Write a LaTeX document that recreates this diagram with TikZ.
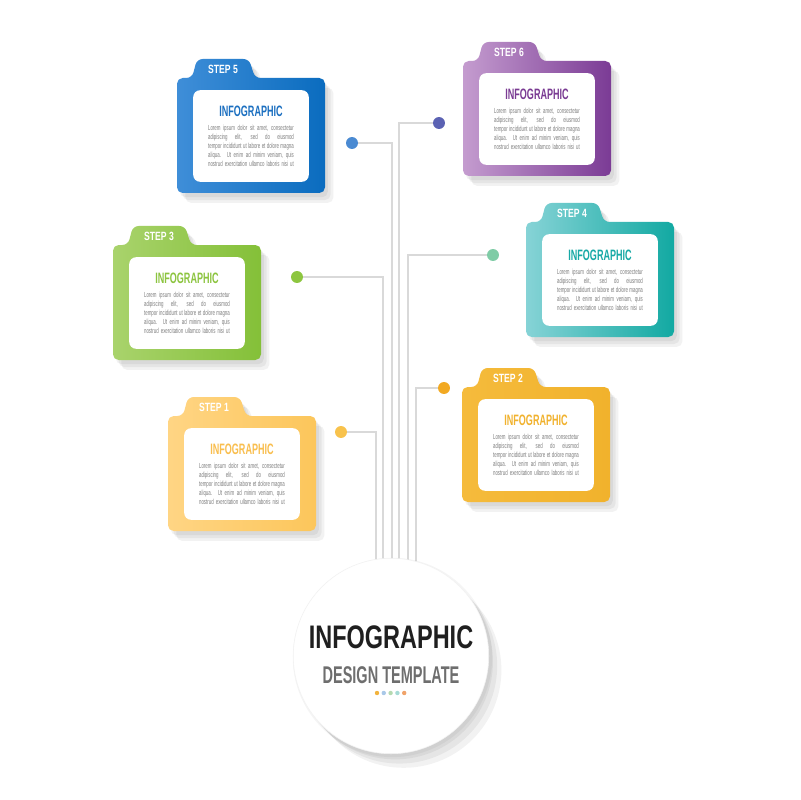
\documentclass[tikz,border=0pt]{standalone}
\usepackage{fontspec}
\setmainfont{Liberation Sans}
\newfontfamily\condA[FakeStretch=0.72]{Liberation Sans}
\newfontfamily\condB[FakeStretch=0.6]{Liberation Sans}
\usetikzlibrary{shadows}

\definecolor{bluL}{HTML}{3F8ED8}\definecolor{bluR}{HTML}{0A6CBF}\definecolor{bluT}{HTML}{1B6FC0}
\definecolor{purL}{HTML}{C49CCF}\definecolor{purR}{HTML}{7B3B95}\definecolor{purT}{HTML}{7A3B93}
\definecolor{grnL}{HTML}{A9D36C}\definecolor{grnR}{HTML}{84C038}\definecolor{grnT}{HTML}{8CC43F}
\definecolor{tqsL}{HTML}{86D3D6}\definecolor{tqsR}{HTML}{12A9A2}\definecolor{tqsT}{HTML}{17A9A6}
\definecolor{ylwL}{HTML}{FFD584}\definecolor{ylwR}{HTML}{FCC65B}\definecolor{ylwT}{HTML}{F9BE4E}
\definecolor{orgL}{HTML}{F5BB3C}\definecolor{orgR}{HTML}{F1B22C}\definecolor{orgT}{HTML}{F1B22E}
\definecolor{dot1}{HTML}{F8C24C}\definecolor{dot2}{HTML}{F2A922}\definecolor{dot3}{HTML}{8DC63F}
\definecolor{dot4}{HTML}{7FCCA6}\definecolor{dot5}{HTML}{4A8AD2}\definecolor{dot6}{HTML}{5B62B3}
\definecolor{wiregray}{HTML}{D9D9D9}
\definecolor{loremgray}{HTML}{7C7C7C}

\newcommand\lorem{%
  \makebox[61pt][s]{Lorem ipsum dolor sit amet, consectetur}\\
  \makebox[61pt][s]{adipiscing elit, sed do eiusmod}\\
  \makebox[61pt][s]{tempor incididunt ut labore et dolore magna}\\
  \makebox[61pt][s]{aliqua. Ut enim ad minim veniam, quis}\\
  \makebox[61pt][s]{nostrud exercitation ullamco laboris nisi ut}}

\tikzset{
  steplabel/.style={text=white, font=\condA\bfseries\fontsize{8.5}{10}\selectfont},
  cardtitle/.style={font=\condB\bfseries\fontsize{10.7}{12}\selectfont},
  lorembox/.style={text=loremgray, font=\condB\fontsize{5.2}{6.4}\selectfont, align=center, inner sep=0},
  card/.style={fill=white, rounded corners=5pt, minimum width=82.2pt, minimum height=65.2pt},
  dot/.style={circle, minimum size=8.5pt, inner sep=0},
  wire/.style={draw=wiregray, line width=1.8pt},
  boxshadow/.style={
    general shadow={fill=black, opacity=.05, shadow xshift=2pt, shadow yshift=-3pt},
    general shadow={fill=black, opacity=.05, shadow xshift=4pt, shadow yshift=-5pt},
    general shadow={fill=black, opacity=.05, shadow xshift=6pt, shadow yshift=-7pt}},
  hub/.style={circle, fill=white, draw=black!5, minimum size=139pt, inner sep=0,
    general shadow={fill=black, opacity=.04, shadow xshift=1pt, shadow yshift=-1pt, shadow scale=1.02},
    general shadow={fill=black, opacity=.05, shadow xshift=3pt, shadow yshift=-4pt},
    general shadow={fill=black, opacity=.05, shadow xshift=6pt, shadow yshift=-7pt},
    general shadow={fill=black, opacity=.05, shadow xshift=9pt, shadow yshift=-10pt}}
}

\begin{document}
\begin{tikzpicture}[x=0.025cm, y=-0.025cm]
  \useasboundingbox[fill=white] (0,0) rectangle (800,800);

  % step cards
  \foreach \n/\x/\y/\lc/\rc/\tc in {5/177/78/bluL/bluR/bluT, 6/463/61/purL/purR/purT,
      3/113/245/grnL/grnR/grnT, 4/526/222/tqsL/tqsR/tqsT,
      1/168/416/ylwL/ylwR/ylwT, 2/462/387/orgL/orgR/orgT} {
    \path[shade, left color=\lc, right color=\rc, rounded corners=4pt, boxshadow]
      (\x,\y+115) -- (\x,\y) -- (\x+15,\y) -- (\x+20,\y-19) -- (\x+72,\y-19)
      -- (\x+78,\y) -- (\x+148,\y) -- (\x+148,\y+115) -- cycle;
    \node[steplabel] (tab\n) at (\x+46,\y-9) {STEP \n};
    \node[card] (card\n) at (\x+74,\y+58) {};
    \node[cardtitle, text=\tc] (title\n) at (\x+74,\y+33) {INFOGRAPHIC};
    \node[lorembox] (lorem\n) at (\x+74,\y+68) {\lorem};
  }

  % dots and wires
  \foreach \n/\dx/\dy/\lx in {1/341/432/376, 3/297/277/383, 5/352/143/392,
      6/439/123/399, 4/493/255/408, 2/444/388/416} {
    \node[dot, fill=dot\n] (dot\n) at (\dx,\dy) {};
    \coordinate (end\n) at (\lx,585);
    \draw[wire] (dot\n) -| (end\n);
  }

  % centre circle
  \node[hub] (hub) at (391,656) {};
  \node[font=\condA\bfseries\fontsize{23.2}{26}\selectfont, text=black!88] (head) at (391,637) {INFOGRAPHIC};
  \node[font=\condB\bfseries\fontsize{17.2}{20}\selectfont, text=black!57] (sub) at (391,675) {DESIGN TEMPLATE};
  \foreach \i/\c in {0/F2B33D, 1/A9C8E8, 2/B5D9B0, 3/A6DAD5, 4/F0A36A} {
    \definecolor{tmp}{HTML}{\c}
    \fill[tmp] (377+\i*6.8,693) circle (2.2);
  }
\end{tikzpicture}
\end{document}
